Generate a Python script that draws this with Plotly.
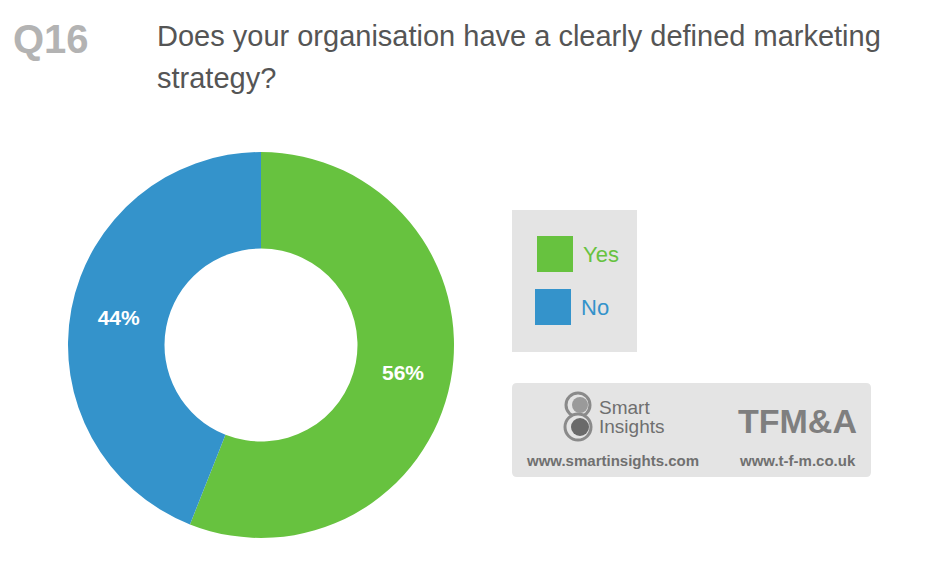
import plotly.graph_objects as go

labels = ["Yes", "No"]
values = [56, 44]
colors = ["#67c23f", "#3493cb"]

W, H = 926, 566
def px(x): return x / W
def py(y): return 1 - y / H

FONT = "Liberation Sans, Arial, sans-serif"

fig = go.Figure(go.Pie(
    labels=labels, values=values, hole=0.5, sort=False, direction="clockwise",
    rotation=0, marker=dict(colors=colors, line=dict(width=0)),
    texttemplate="<b>%{percent:.0%}</b>", textposition="inside",
    insidetextorientation="horizontal",
    textfont=dict(family=FONT, size=21, color="white"),
    domain=dict(x=[px(68), px(454)], y=[py(538), py(152)]),
    showlegend=False, hoverinfo="label+percent",
))

shapes = []
ann = []
# title
ann.append(dict(x=px(11), y=py(39), xref="paper", yref="paper", xanchor="left", yanchor="middle",
                text="<b>Q16</b>", showarrow=False, font=dict(family=FONT, size=40, color="#b3b3b3")))
ann.append(dict(x=px(155), y=py(36), xref="paper", yref="paper", xanchor="left", yanchor="middle",
                text="Does your organisation have a clearly defined marketing", align="left",
                showarrow=False, font=dict(family=FONT, size=29, color="#555555")))
ann.append(dict(x=px(155), y=py(78), xref="paper", yref="paper", xanchor="left", yanchor="middle",
                text="strategy?", align="left",
                showarrow=False, font=dict(family=FONT, size=29, color="#555555")))
# legend box
shapes.append(dict(type="rect", xref="paper", yref="paper", x0=px(512), x1=px(637), y0=py(352), y1=py(210),
                   fillcolor="#e4e4e4", line=dict(width=0), layer="below"))
leg_y = [254, 307]
leg_x = [537, 535]
for i, lab in enumerate(labels):
    cy = leg_y[i]
    shapes.append(dict(type="rect", xref="paper", yref="paper", x0=px(leg_x[i]), x1=px(leg_x[i] + 36),
                       y0=py(cy + 18), y1=py(cy - 18), fillcolor=colors[i], line=dict(width=0)))
    ann.append(dict(x=px(leg_x[i] + 44), y=py(cy), xref="paper", yref="paper", xanchor="left", yanchor="middle",
                    text=lab, showarrow=False, font=dict(family=FONT, size=22, color=colors[i])))
# logos box (rounded corners)
x0, x1, y0, y1, r = 512, 871, 383, 477, 5
path = (f"M {x0+r},{y0} L {x1-r},{y0} Q {x1},{y0} {x1},{y0+r} L {x1},{y1-r} Q {x1},{y1} {x1-r},{y1} "
        f"L {x0+r},{y1} Q {x0},{y1} {x0},{y1-r} L {x0},{y0+r} Q {x0},{y0} {x0+r},{y0} Z")
shapes.append(dict(type="path", xref="x", yref="y", path=path,
                   fillcolor="#e4e4e4", line=dict(width=0), layer="below"))
# smart insights logo approximation
for (cx, cy, rr, col, lc, lw) in [(578, 405, 12, "#e4e4e4", "#8a8a8a", 3),
                                  (578, 427, 13, "#e4e4e4", "#8a8a8a", 3),
                                  (580, 405, 8, "#9a9a9a", "#9a9a9a", 0),
                                  (580, 427, 9, "#6a6a6a", "#6a6a6a", 0)]:
    shapes.append(dict(type="circle", xref="paper", yref="paper", x0=px(cx - rr), x1=px(cx + rr),
                       y0=py(cy + rr), y1=py(cy - rr), fillcolor=col, line=dict(width=lw, color=lc)))
ann.append(dict(x=px(597), y=py(407), xref="paper", yref="paper", xanchor="left", yanchor="middle",
                text="Smart", showarrow=False, font=dict(family=FONT, size=19, color="#6f6f6f")))
ann.append(dict(x=px(597), y=py(426), xref="paper", yref="paper", xanchor="left", yanchor="middle",
                text="Insights", showarrow=False, font=dict(family=FONT, size=19, color="#6f6f6f")))
ann.append(dict(x=px(797), y=py(421), xref="paper", yref="paper", xanchor="center", yanchor="middle",
                text="<b>TFM&amp;A</b>", showarrow=False,
                font=dict(family=FONT, size=34, color="#7f7f7f")))
ann.append(dict(x=px(612), y=py(460), xref="paper", yref="paper", xanchor="center", yanchor="middle",
                text="<b>www.smartinsights.com</b>", showarrow=False,
                font=dict(family=FONT, size=15, color="#707070")))
ann.append(dict(x=px(797), y=py(460), xref="paper", yref="paper", xanchor="center", yanchor="middle",
                text="<b>www.t-f-m.co.uk</b>", showarrow=False,
                font=dict(family=FONT, size=15, color="#707070")))

fig.update_layout(width=W, height=H, margin=dict(l=0, r=0, t=0, b=0),
                  paper_bgcolor="white", plot_bgcolor="white",
                  xaxis=dict(range=[0, W], visible=False, fixedrange=True),
                  yaxis=dict(range=[H, 0], visible=False, fixedrange=True),
                  shapes=shapes, annotations=ann, font=dict(family=FONT))
fig.write_html("out.html", config={"displayModeBar": False},
               post_script="document.body.style.margin='0';document.body.style.overflow='hidden';")
